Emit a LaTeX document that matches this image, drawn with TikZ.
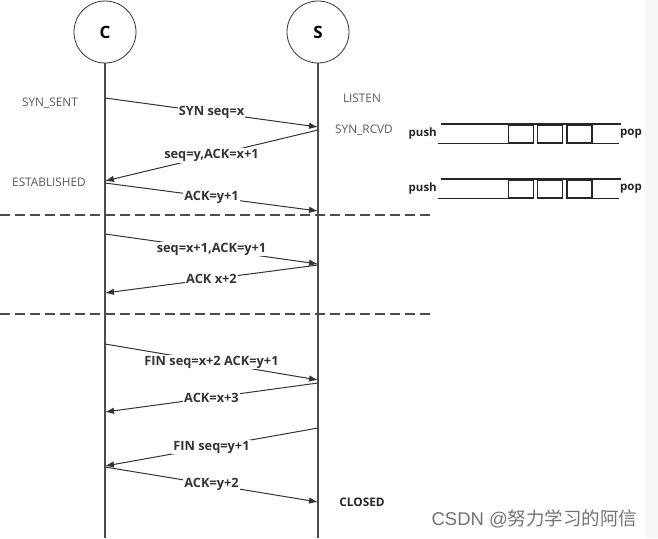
\documentclass[tikz,border=0pt]{standalone}
\usepackage{fontspec}
\setmainfont{Open Sans}
\newfontfamily\cjkfont{Noto Sans CJK SC}
\newfontfamily\markfont{Liberation Sans}
\usetikzlibrary{arrows.meta,positioning}

\begin{document}
\begin{tikzpicture}[x=1pt, y=-1pt,
    host/.style={circle, draw=black!80, thick, minimum size=62pt, inner sep=0pt, font=\bfseries\fontsize{17}{19}\selectfont},
    life/.style={draw=black!70, line width=1.3pt},
    msg/.style={-{Latex[length=9pt,width=6.5pt]}, draw=black!80, line width=1pt},
    lbl/.style={fill=white, inner sep=1pt, font=\bfseries\fontsize{12.8}{14}\selectfont, text=black!80},
    state/.style={font=\fontsize{11.8}{13}\selectfont, text=black!65},
    sep/.style={draw=black!70, line width=1.3pt, dash pattern=on 10pt off 5pt},
    slot/.style={rectangle, draw=black!85, line width=1.3pt, minimum width=25pt, minimum height=18pt, inner sep=0pt},
    qtext/.style={font=\bfseries\fontsize{11.5}{13}\selectfont, text=black!85, inner sep=1pt}
]
\useasboundingbox (0,0) rectangle (658,538);
\fill[gray!6] (645,0) rectangle (658,538);

% Hosts and lifelines
\node[host] (c) at (105,32) {C};
\node[host] (s) at (318,32) {S};
\coordinate (cend) at (105,538);
\coordinate (send) at (318,538);
\draw[life] (c) -- (cend);
\draw[life] (s) -- (send);

% States
\node[state] (synsent) at (50,103) {SYN\_SENT};
\node[state] (listen) at (362,98) {LISTEN};
\node[state] (synrcvd) at (364,130) {SYN\_RCVD};
\node[state] (estab) at (49,182) {ESTABLISHED};
\node[state, font=\bfseries\fontsize{11.8}{13}\selectfont, text=black!85] (closed) at (362,502) {CLOSED};

% Message end points
\coordinate (c1) at (105,98);   \coordinate (s1) at (318,127);
\coordinate (s2) at (318,130);  \coordinate (c2) at (105,181);
\coordinate (c3) at (105,183);  \coordinate (s3) at (318,211);
\coordinate (c4) at (105,234);  \coordinate (s4) at (318,264);
\coordinate (s5) at (318,265);  \coordinate (c5) at (105,293);
\coordinate (c6) at (105,344);  \coordinate (s6) at (318,380);
\coordinate (s7) at (318,383);  \coordinate (c7) at (105,412);
\coordinate (s8) at (318,428);  \coordinate (c8) at (105,466);
\coordinate (c9) at (105,467);  \coordinate (s9) at (318,502);

% Handshake
\draw[msg] (c1) -- (s1) node[lbl, midway] (m1) {SYN seq=x};
\draw[msg] (s2) -- (c2) node[lbl, midway] (m2) {seq=y,ACK=x+1};
\draw[msg] (c3) -- (s3) node[lbl, midway] (m3) {ACK=y+1};

% Separators
\coordinate (d1a) at (0,215);  \coordinate (d1b) at (432,215);
\coordinate (d2a) at (0,314);  \coordinate (d2b) at (432,314);
\draw[sep] (d1a) -- (d1b);
\draw[sep] (d2a) -- (d2b);

% Data
\draw[msg] (c4) -- (s4) node[lbl, midway] (m4) {seq=x+1,ACK=y+1};
\draw[msg] (s5) -- (c5) node[lbl, midway] (m5) {ACK x+2};

% Teardown
\draw[msg] (c6) -- (s6) node[lbl, midway] (m6) {FIN seq=x+2 ACK=y+1};
\draw[msg] (s7) -- (c7) node[lbl, midway] (m7) {ACK=x+3};
\draw[msg] (s8) -- (c8) node[lbl, midway] (m8) {FIN seq=y+1};
\draw[msg] (c9) -- (s9) node[lbl, midway] (m9) {ACK=y+2};

% Queues
\foreach \q/\y in {1/134, 2/189} {
  \node[qtext, anchor=east] (push\q) at (438,\y) {push};
  \node[slot] (a\q) at (521,\y) {};
  \node[slot, right=3pt of a\q] (b\q) {};
  \node[slot, right=3pt of b\q] (e\q) {};
  \node[qtext, anchor=west] (pop\q) at (619,\y) {pop};
  \draw[line width=1.3pt, draw=black!85] (441,\y-10) -- (621,\y-10);
  \draw[line width=1.3pt, draw=black!85] (push\q.east |- a\q.south) -- (a\q.south west);
  \draw[line width=1.3pt, draw=black!85] (e\q.south east) -- (pop\q.west |- e\q.south);
}

% Watermark
\node[text=black!55, font=\fontsize{18.5}{20}\selectfont, anchor=east] (csdn) at (641,519) {\markfont CSDN @\cjkfont 努力学习的阿信};

\end{tikzpicture}
\end{document}
